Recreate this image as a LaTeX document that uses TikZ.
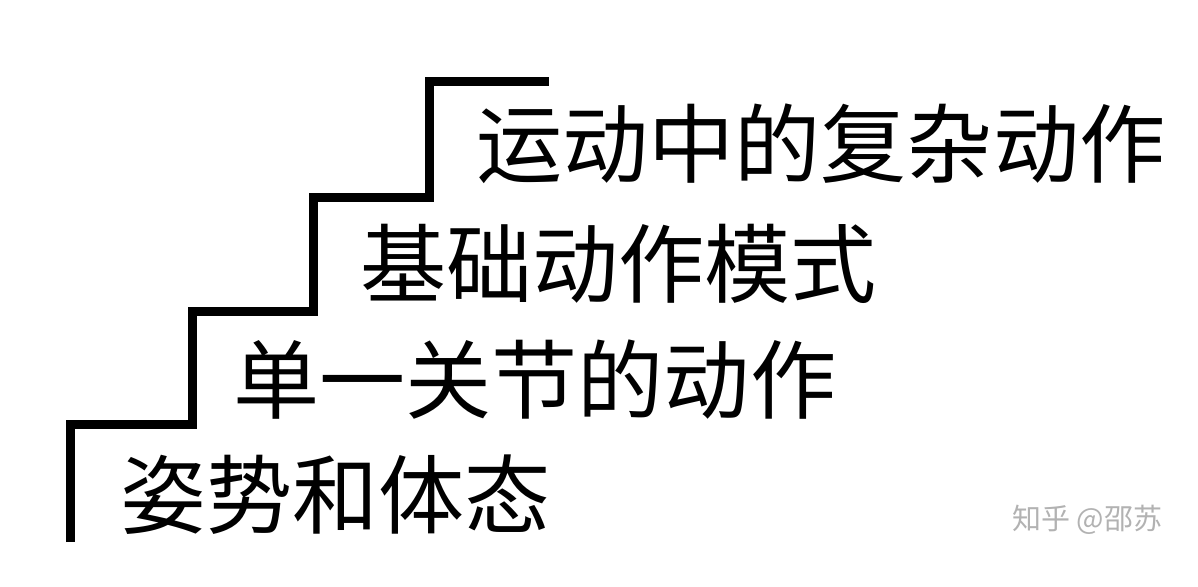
\documentclass[tikz,border=0pt]{standalone}
\usepackage{fontspec}
\newfontfamily\heiti{Noto Sans CJK SC}
\tikzset{
  stair/.style={line width=1.8mm,line join=miter,line cap=butt},
  steplabel/.style={anchor=west,inner sep=0pt,font=\heiti\fontsize{49}{49}\selectfont},
  mark label/.style={anchor=west,inner sep=0pt,text=black!30,font=\heiti\fontsize{16.5}{16.5}\selectfont}
}

\begin{document}
\begin{tikzpicture}[x=0.2mm,y=-0.2mm]

\useasboundingbox (0,0) rectangle (1198,586);

\node[steplabel] (a1) at (120,495) {姿势和体态};
\node[steplabel] (a2) at (233,380) {单一关节的动作};
\node[steplabel] (a3) at (360,264) {基础动作模式};
\node[steplabel] (a4) at (476,144) {运动中的复杂动作};

\draw[stair] (70,542) -- (70,424) -- (192,424) -- (192,311) -- (313,311)
  -- (313,197) -- (429,197) -- (429,81) -- (549,81);

\node[mark label] (m) at (1012,520) {知乎 @邵苏};

\end{tikzpicture}
\end{document}
